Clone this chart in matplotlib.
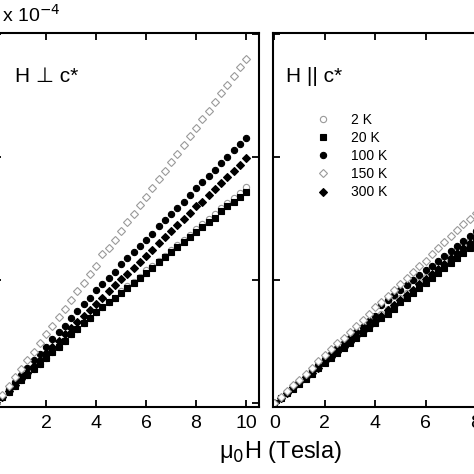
import matplotlib
matplotlib.use("Agg")
import matplotlib.pyplot as plt
plt.rcParams['font.family'] = ['Liberation Sans', 'DejaVu Sans']

field = [0.25*k for k in range(1, 41)]
temps = ["2 K", "20 K", "100 K", "150 K", "300 K"]

left = {
 "150 K": [0.07,0.14,0.21,0.28,0.35,0.42,0.49,0.56,0.63,0.70,0.77,0.84,0.91,0.98,1.05,1.12,1.21,1.26,1.33,1.40,1.47,1.54,1.61,1.68,1.75,1.82,1.89,1.96,2.03,2.10,2.17,2.24,2.31,2.38,2.45,2.52,2.59,2.66,2.73,2.80],
 "100 K": [0.06,0.12,0.17,0.23,0.29,0.35,0.40,0.46,0.52,0.58,0.63,0.69,0.75,0.81,0.86,0.92,0.97,1.02,1.07,1.13,1.18,1.23,1.28,1.33,1.38,1.44,1.49,1.54,1.59,1.64,1.69,1.75,1.80,1.85,1.90,1.95,2.00,2.06,2.11,2.16],
 "300 K": [0.05,0.10,0.15,0.20,0.25,0.30,0.35,0.41,0.46,0.51,0.56,0.61,0.66,0.71,0.76,0.81,0.86,0.91,0.96,1.01,1.05,1.10,1.15,1.20,1.25,1.30,1.35,1.40,1.45,1.50,1.55,1.60,1.64,1.69,1.74,1.79,1.84,1.89,1.94,1.99],
 "20 K": [0.05,0.09,0.14,0.19,0.23,0.28,0.32,0.37,0.42,0.46,0.51,0.56,0.60,0.65,0.69,0.74,0.78,0.82,0.86,0.90,0.94,0.98,1.02,1.06,1.10,1.15,1.19,1.23,1.27,1.31,1.35,1.39,1.43,1.47,1.51,1.56,1.60,1.64,1.68,1.72],
 "2 K": [0.05,0.09,0.14,0.19,0.23,0.28,0.32,0.37,0.42,0.46,0.51,0.56,0.60,0.65,0.69,0.74,0.78,0.82,0.86,0.91,0.95,0.99,1.03,1.08,1.12,1.16,1.20,1.25,1.29,1.33,1.37,1.42,1.46,1.50,1.54,1.59,1.63,1.67,1.71,1.76],
}
right = {
 "150 K": [0.05,0.10,0.15,0.19,0.24,0.29,0.34,0.39,0.44,0.49,0.53,0.58,0.63,0.68,0.73,0.78,0.82,0.87,0.92,0.97,1.02,1.07,1.12,1.16,1.21,1.26,1.31,1.36,1.41,1.46,1.50,1.55,1.60,1.65,1.70,1.75,1.79,1.84,1.89,1.94],
 "100 K": [0.045,0.09,0.13,0.18,0.22,0.27,0.31,0.36,0.40,0.45,0.49,0.53,0.58,0.62,0.67,0.71,0.80,0.84,0.88,0.92,0.96,1.00,1.04,1.08,1.12,1.16,1.20,1.24,1.28,1.32,1.36,1.40,1.44,1.48,1.52,1.56,1.60,1.64,1.68,1.72],
 "300 K": [0.04,0.08,0.13,0.17,0.21,0.25,0.29,0.34,0.38,0.42,0.46,0.50,0.55,0.59,0.63,0.67,0.71,0.76,0.80,0.84,0.88,0.92,0.97,1.01,1.05,1.09,1.13,1.18,1.22,1.26,1.30,1.34,1.39,1.43,1.47,1.51,1.55,1.60,1.64,1.68],
 "20 K": [0.04,0.08,0.12,0.16,0.20,0.24,0.29,0.33,0.37,0.41,0.45,0.49,0.53,0.57,0.61,0.65,0.69,0.73,0.77,0.82,0.86,0.90,0.94,0.98,1.02,1.06,1.10,1.14,1.18,1.22,1.26,1.30,1.34,1.39,1.43,1.47,1.51,1.55,1.59,1.63],
 "2 K": [0.04,0.09,0.13,0.17,0.22,0.26,0.30,0.34,0.39,0.43,0.47,0.52,0.56,0.60,0.65,0.69,0.73,0.77,0.82,0.86,0.90,0.95,0.99,1.03,1.08,1.12,1.16,1.20,1.25,1.29,1.33,1.38,1.42,1.46,1.51,1.55,1.59,1.63,1.68,1.72],
}

styles = {
 "2 K": dict(marker="o", mfc="white", mec="#9a9a9a"),
 "20 K": dict(marker="s", mfc="black", mec="black"),
 "100 K": dict(marker="o", mfc="black", mec="black"),
 "150 K": dict(marker="D", mfc="white", mec="#9a9a9a", ms=4.3),
 "300 K": dict(marker="D", mfc="black", mec="black", ms=4.3),
}

fig = plt.figure(figsize=(4.74, 4.74), dpi=100)
H = 474
ax1 = fig.add_axes([-6.5/H, 67/H, 265/H, 374/H])
ax2 = fig.add_axes([273/H, 67/H, 266/H, 374/H])
order = ["2 K", "20 K", "300 K", "100 K", "150 K"]
for ax, data in ((ax1, left), (ax2, right)):
    for t in order:
        st = dict(ms=4.5, mew=0.8, ls="none")
        st.update(styles[t])
        ax.plot([0] + field, [0] + data[t], label=t, **st)
    ax.set_ylim(-0.03, 3.01)
    ax.set_yticks([0, 1, 2, 3])
    ax.tick_params(direction="in", top=True, right=True, length=5, width=1.3, labelsize=14, pad=6)
    ax.set_yticklabels([])
    for s in ax.spines.values():
        s.set_linewidth(1.5)
ax1.set_xticks([0, 2, 4, 6, 8, 10])
ax1.set_xticklabels(["", "2", "4", "6", "8", "10"])
ax2.set_xticks([0, 2, 4, 6, 8, 10])
ax1.set_xlim(-0.1, 10.5)
ax2.set_xlim(-0.05, 10.5)
ax1.text(0.08, 0.87, "H ⊥ c*", transform=ax1.transAxes, fontsize=15)
ax2.text(0.05, 0.87, "H || c*", transform=ax2.transAxes, fontsize=15)
h, l = ax2.get_legend_handles_labels()
idx = [l.index(t) for t in temps]
ax2.legend([h[i] for i in idx], temps, loc="upper left", bbox_to_anchor=(0.09, 0.82),
           frameon=False, fontsize=10, handletextpad=1.0, labelspacing=0.3, markerscale=1.0)
fig.text(2/H, 1 - 15/H, "x 10$^{-4}$", fontsize=14, va="center")
fig.text(280/H, 1 - 452/H, "μ$_0$H (Tesla)", fontsize=17, ha="center", va="center")
fig.savefig("out.png", dpi=100)
